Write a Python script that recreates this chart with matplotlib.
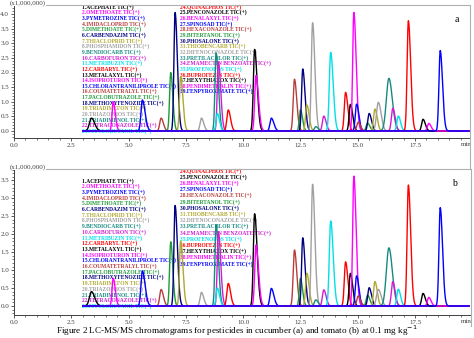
import numpy as np
import matplotlib.pyplot as plt
from matplotlib.lines import Line2D
from matplotlib.ticker import MultipleLocator, FormatStrFormatter

plt.rcParams['font.family'] = ['Liberation Serif', 'DejaVu Serif']

# compound names (TIC traces), in elution order
names = ['ACEPHATE', 'OMETHOATE', 'PYMETROZINE', 'IMIDACLOPRID', 'DIMETHOATE',
         'CARBENDAZIM', 'THIACLOPRID', 'PHOSPHAMIDON', 'BENDIOCARB', 'CARBOFURON',
         'METRIBUZIN', 'CARBARYL', 'METALAXYL', 'ISOPROTURON', 'CHLORANTRANILIPROLE',
         'COUMATETRALYL', 'PACLOBUTRAZOLE', 'METHOXYFENOZIDE', 'TRIADIMEFON',
         'TRIAZOPHOS', 'TRIADIMENOL', 'TETRACONAZOLE', 'MYCLOBUTANIL',
         'QUINALPHOS', 'PENCONAZOLE', 'BENALAXYL', 'SPINOSAD', 'HEXACONAZOLE',
         'BITERTANOL', 'PHOSALONE', 'THIOBENCARB', 'DIFENOCONAZOLE', 'PRETILACHLOR',
         'EMAMECTIN BENZOATE', 'PROFENOFOS', 'BUPROFEZIN', 'HEXYTHIAZOX',
         'PENDIMETHALIN', 'FENPYROXIMATE']

# instrument colour cycle for channels 1..12
palette = ['#000000', '#ff00ff', '#0000ff', '#b83c3c', '#1f9a3a', '#000080',
           '#b0a830', '#a0a0a0', '#168a80', '#d21cd2', '#00e0e8', '#ff0000']

# retention time (min) of each peak
rt = [3.38, 4.33, 5.60, 6.42, 6.84, 7.03, 7.27, 8.18, 8.82, 8.92, 8.87, 9.35, 10.50,
      10.56, 11.23, 12.24, 12.50, 12.60, 12.78, 13.03, 13.17, 13.52, 13.82, 14.47,
      14.68, 14.83, 14.95, 15.02, 15.43, 15.50, 15.75, 15.90, 16.36, 16.53, 16.77,
      17.21, 17.85, 18.10, 18.60]

# peak heights (x1,000,000), sample a and sample b
height_a = [0.44, 1.00, 1.06, 0.44, 2.00, 4.05, 1.86, 0.44, 2.67, 2.36, 0.60, 0.72, 2.79,
            1.90, 0.44, 1.77, 0.72, 2.12, 0.89, 3.70, 0.15, 0.51, 2.69, 1.32, 0.91,
            4.06, 0.92, 0.30, 0.27, 0.60, 0.75, 0.98, 1.80, 0.78, 0.51, 3.77, 0.40,
            0.26, 2.75]
height_b = [0.40, 0.77, 0.98, 0.46, 1.79, 2.80, 1.81, 0.38, 2.27, 2.07, 0.50, 0.63, 2.57,
            1.70, 0.49, 1.56, 0.77, 1.90, 0.91, 3.39, 0.17, 0.45, 2.37, 1.23, 0.91,
            3.62, 0.84, 0.28, 0.30, 0.51, 0.68, 0.46, 1.62, 0.68, 0.47, 3.37, 0.35,
            0.24, 2.74]

# peak widths (min): front and tail
front = [0.09, 0.05, 0.06, 0.06, 0.05, 0.05, 0.05, 0.06, 0.05, 0.05, 0.05, 0.06, 0.055,
         0.055, 0.06, 0.055, 0.05, 0.05, 0.055, 0.055, 0.06, 0.06, 0.06, 0.055, 0.055,
         0.05, 0.055, 0.06, 0.06, 0.06, 0.06, 0.08, 0.11, 0.06, 0.06, 0.055, 0.06,
         0.06, 0.055]
tail = [0.14, 0.09, 0.12, 0.10, 0.09, 0.10, 0.10, 0.10, 0.10, 0.10, 0.10, 0.10, 0.11,
        0.11, 0.11, 0.10, 0.09, 0.10, 0.10, 0.10, 0.10, 0.10, 0.11, 0.10, 0.10, 0.10,
        0.10, 0.10, 0.10, 0.10, 0.10, 0.12, 0.15, 0.10, 0.10, 0.10, 0.10, 0.10, 0.10]

t = np.linspace(3.0, 19.85, 2000)


def trace(i, h):
    s = np.where(t < rt[i], front[i], tail[i])
    return h * np.exp(-0.5 * ((t - rt[i]) / s) ** 2)


fig = plt.figure(figsize=(4.74, 3.38), dpi=100)
W, H = 474, 338


def fx(px):
    return px / W


def fy(py):
    return 1 - py / H


panels = [
    dict(heights=height_a, box=(14, 5, 470, 138), zero=131, scale=29.25, ymax=4.0,
         tag='a', tagpos=(457, 20), col1=(82, 6.7, 5.66), col2=(180, 6.7, 5.66)),
    dict(heights=height_b, box=(14, 169, 470, 315), zero=306, scale=35.9, ymax=3.5,
         tag='b', tagpos=(454, 183), col1=(82, 180.7, 5.7), col2=(180, 170.7, 6.2)),
]

for p in panels:
    x0, y0, x1, y1 = p['box']
    ax = fig.add_axes([fx(x0), fy(y1), (x1 - x0) / W, (y1 - y0) / H])
    ax.set_xlim(0, 19.9)
    ax.set_ylim((p['zero'] - y1) / p['scale'], (p['zero'] - y0) / p['scale'])
    for i in range(len(names)):
        ax.plot(t, trace(i, p['heights'][i]), color=palette[i % 12], lw=1.0, zorder=2)

    ax.spines['right'].set_visible(False)
    ax.spines['top'].set_color('#b0b0b0')
    ax.spines['left'].set_color('#404040')
    ax.spines['bottom'].set_color('#404040')
    ax.spines['left'].set_linewidth(0.7)
    ax.spines['bottom'].set_linewidth(0.7)
    ax.spines['top'].set_linewidth(0.8)

    ax.set_xticks([0, 2.5, 5, 7.5, 10, 12.5, 15, 17.5])
    ax.xaxis.set_minor_locator(MultipleLocator(0.5))
    ax.xaxis.set_major_formatter(FormatStrFormatter('%.1f'))
    ax.set_yticks(np.arange(0, p['ymax'] + 0.01, 0.5))
    ax.yaxis.set_minor_locator(MultipleLocator(0.1))
    ax.yaxis.set_major_formatter(FormatStrFormatter('%.1f'))
    ax.tick_params(which='both', labelsize=5, colors='#404040', pad=1)
    ax.tick_params(which='major', length=2.5, width=0.6)
    ax.tick_params(which='minor', length=1.2, width=0.5)
    ax.text(19.72, -0.03, 'min', transform=ax.get_xaxis_transform(), fontsize=5,
            color='#404040', ha='center', va='top')

    fig.text(fx(10), fy(y0 - 2), '(x1,000,000)', fontsize=5, color='#404040',
             ha='left', va='center',
             bbox=dict(facecolor='white', edgecolor='none', pad=0.3))
    fig.text(fx(p['tagpos'][0]), fy(p['tagpos'][1]), p['tag'], fontsize=7,
             ha='center', va='center')

    # channel labels
    for i, name in enumerate(names):
        if i < 23:
            cx, cy, step = p['col1']
            row = i
        else:
            cx, cy, step = p['col2']
            row = i - 23
        ax.text(fx(cx), fy(cy + row * step), f'{i + 1}.{name} TIC(+)',
                transform=fig.transFigure, fontsize=4.0, fontweight='bold',
                color=palette[i % 12], ha='left', va='center', zorder=1)

# grey frame on the right side of both panels
fig.add_artist(Line2D([fx(470), fx(470)], [fy(5), fy(169)], color='#b0b0b0', lw=0.8))
fig.add_artist(Line2D([fx(471), fx(471)], [fy(169), fy(326)], color='#b0b0b0', lw=0.8))

fig.text(0.5, fy(331), 'Figure 2 LC-MS/MS chromatograms for pesticides in cucumber (a) and '
         'tomato (b) at 0.1 mg kg$^{-1}$', fontsize=6.6, ha='center', va='center')

fig.savefig('out.png', dpi=100)
